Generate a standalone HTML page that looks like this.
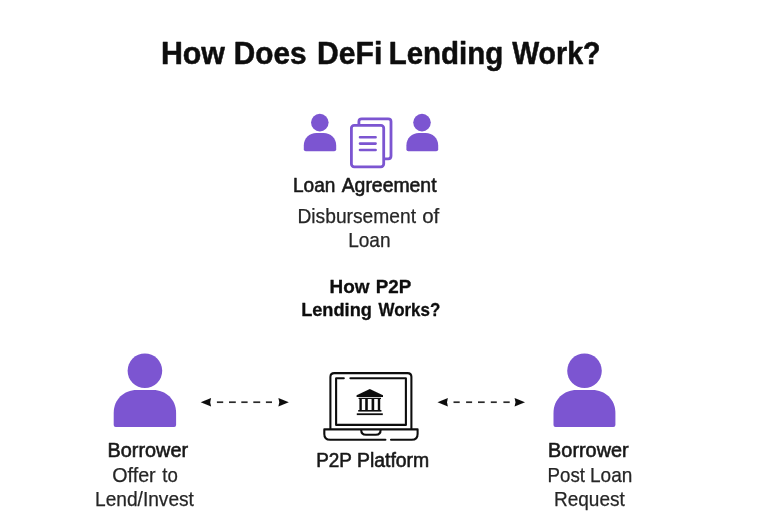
<!DOCTYPE html>
<html lang="en">
<head>
<meta charset="utf-8">
<title>How Does DeFi Lending Work?</title>
<style>
html,body{margin:0;padding:0;background:#fff;}
body{width:768px;height:519px;overflow:hidden;font-family:"Liberation Sans",sans-serif;}
svg{display:block;}
text{font-family:"Liberation Sans",sans-serif;}
</style>
</head>
<body>
<svg width="768" height="519" viewBox="0 0 768 519">
<rect width="768" height="519" fill="#ffffff"/>
<defs><filter id="soft" x="-5%" y="-5%" width="110%" height="110%"><feGaussianBlur stdDeviation="0.45"/></filter></defs>
<g filter="url(#soft)">
<g fill="#7b55d1">
<circle cx="319.8" cy="122.6" r="8.8"/>
<path d="M305.8 151.3 Q303.8 151.3 303.8 149.3 V145.5 C303.8 138.00 309.43 133.0 316.3 133.0 H323.7 C330.57 133.0 336.2 138.00 336.2 145.5 V149.3 Q336.2 151.3 334.2 151.3 Z"/>
<circle cx="422.0" cy="122.6" r="8.8"/>
<path d="M408.4 151.3 Q406.4 151.3 406.4 149.3 V145.5 C406.4 138.00 412.02 133.0 418.9 133.0 H425.7 C432.57 133.0 438.2 138.00 438.2 145.5 V149.3 Q438.2 151.3 436.2 151.3 Z"/>
<circle cx="144.9" cy="370.8" r="17.3"/>
<path d="M115.7 427.1 Q113.7 427.1 113.7 425.1 V413.1 C113.7 399.30 124.05 390.1 136.7 390.1 H153.1 C165.75 390.1 176.1 399.30 176.1 413.1 V425.1 Q176.1 427.1 174.1 427.1 Z"/>
<circle cx="584.5" cy="370.8" r="17.3"/>
<path d="M555.5 427.1 Q553.5 427.1 553.5 425.1 V413.1 C553.5 399.30 563.85 390.1 576.5 390.1 H592.4 C605.05 390.1 615.4 399.30 615.4 413.1 V425.1 Q615.4 427.1 613.4 427.1 Z"/>
</g>
<g fill="none" stroke="#7b55d1" stroke-width="2.8" stroke-linecap="round" stroke-linejoin="round">
<path d="M358.9 124.0 V121.6 Q358.9 118.8 361.7 118.8 H388.2 Q391.0 118.8 391.0 121.6 V156.0 Q391.0 158.8 388.2 158.8 H385"/>
<rect x="351.4" y="125.3" width="32.3" height="41.6" rx="2.8" fill="#fff"/>
<path d="M360 137.3 H375.6 M360 143.6 H375.6 M360 150 H375.6" stroke-width="2.6"/>
</g>
<g fill="none" stroke="#111" stroke-width="2.1" stroke-linecap="round" stroke-linejoin="round">
<path d="M330.4 428.6 V377.0 Q330.4 373.1 334.3 373.1 H407.5 Q411.4 373.1 411.4 377.0 V428.6"/>
<path d="M350.4 378.3 H405.9 V424.9 H336.1 V378.3 H343.8"/>
<path d="M391.0 439.7 H411.8 Q417.6 439.7 417.6 433.9 V429.4 H324.3 V433.9 Q324.3 439.7 330.1 439.7 H385.4"/>
<path d="M361.2 430 Q361.2 434.7 365.9 434.7 H375.9 Q380.6 434.7 380.6 430"/>
</g>
<g fill="#111" stroke="none">
<path d="M369.8 388.9 L383 395.2 V396.9 H356.6 V395.2 Z"/>
<rect x="358.6" y="397.8" width="22.4" height="1.2"/>
<rect x="359.4" y="399" width="2.4" height="11"/>
<rect x="365.2" y="399" width="2.6" height="11"/>
<rect x="371.6" y="399" width="2.6" height="11"/>
<rect x="377.8" y="399" width="2.4" height="11"/>
<rect x="358.2" y="410" width="23.2" height="1.6"/>
<rect x="356.8" y="413.3" width="26" height="1.8"/>
</g>
<g fill="#111" stroke="none">
<path d="M200.7 402.2 L211.1 397.9 L210.2 402.2 L211.1 406.5 Z"/>
<path d="M288.8 402.2 L278.4 397.9 L279.3 402.2 L278.4 406.5 Z"/>
<rect x="216.9" y="401.35" width="6.3" height="1.7" fill="#2a2a2a"/>
<rect x="229" y="401.35" width="6.8" height="1.7" fill="#2a2a2a"/>
<rect x="241.3" y="401.35" width="6.3" height="1.7" fill="#2a2a2a"/>
<rect x="253.3" y="401.35" width="6.9" height="1.7" fill="#2a2a2a"/>
<rect x="265.9" y="401.35" width="6.1" height="1.7" fill="#2a2a2a"/>
</g>
<g fill="#111" stroke="none">
<path d="M437.5 402.2 L447.9 397.9 L447.0 402.2 L447.9 406.5 Z"/>
<path d="M525.0 402.2 L514.6 397.9 L515.5 402.2 L514.6 406.5 Z"/>
<rect x="453.5" y="401.35" width="6.2" height="1.7" fill="#2a2a2a"/>
<rect x="466.1" y="401.35" width="6.0" height="1.7" fill="#2a2a2a"/>
<rect x="478" y="401.35" width="6.7" height="1.7" fill="#2a2a2a"/>
<rect x="490.8" y="401.35" width="6.0" height="1.7" fill="#2a2a2a"/>
<rect x="503.4" y="401.35" width="6.3" height="1.7" fill="#2a2a2a"/>
</g>
<text y="64.2" font-size="30.7" font-weight="bold" fill="#0c0c0c" stroke="#0c0c0c" stroke-width="0.5" stroke-linejoin="round" xml:space="preserve"><tspan x="160.90" textLength="64.10" lengthAdjust="spacingAndGlyphs">How</tspan> <tspan x="233.72" textLength="72.76" lengthAdjust="spacingAndGlyphs">Does</tspan> <tspan x="317.02" textLength="65.26" lengthAdjust="spacingAndGlyphs">DeFi</tspan> <tspan x="388.72" textLength="114.50" lengthAdjust="spacingAndGlyphs">Lending</tspan> <tspan x="512.18" textLength="88.30" lengthAdjust="spacingAndGlyphs">Work?</tspan></text>
<text y="192.4" font-size="19.6" font-weight="normal" fill="#1a1a1a" stroke="#1a1a1a" stroke-width="0.6" stroke-linejoin="round" xml:space="preserve"><tspan x="293.02" textLength="42.40" lengthAdjust="spacingAndGlyphs">Loan</tspan> <tspan x="341.68" textLength="94.88" lengthAdjust="spacingAndGlyphs">Agreement</tspan></text>
<text y="223.2" font-size="19.8" font-weight="normal" fill="#262626" stroke="#262626" stroke-width="0.25" stroke-linejoin="round" xml:space="preserve"><tspan x="297.46" textLength="118.54" lengthAdjust="spacingAndGlyphs">Disbursement</tspan> <tspan x="422.20" textLength="17.12" lengthAdjust="spacingAndGlyphs">of</tspan></text>
<text y="246.9" font-size="19.8" font-weight="normal" fill="#262626" stroke="#262626" stroke-width="0.25" stroke-linejoin="round" xml:space="preserve"><tspan x="348.14" textLength="42.40" lengthAdjust="spacingAndGlyphs">Loan</tspan></text>
<text y="292.6" font-size="18.2" font-weight="bold" fill="#0c0c0c" stroke="#0c0c0c" stroke-width="0.3" stroke-linejoin="round" xml:space="preserve"><tspan x="329.52" textLength="39.92" lengthAdjust="spacingAndGlyphs">How</tspan> <tspan x="375.70" textLength="35.55" lengthAdjust="spacingAndGlyphs">P2P</tspan></text>
<text y="316.3" font-size="18.2" font-weight="bold" fill="#0c0c0c" stroke="#0c0c0c" stroke-width="0.3" stroke-linejoin="round" xml:space="preserve"><tspan x="301.14" textLength="70.78" lengthAdjust="spacingAndGlyphs">Lending</tspan> <tspan x="378.50" textLength="61.74" lengthAdjust="spacingAndGlyphs">Works?</tspan></text>
<text y="456.6" font-size="19.6" font-weight="normal" fill="#1a1a1a" stroke="#1a1a1a" stroke-width="0.6" stroke-linejoin="round" xml:space="preserve"><tspan x="107.58" textLength="80.48" lengthAdjust="spacingAndGlyphs">Borrower</tspan></text>
<text y="482.0" font-size="19.8" font-weight="normal" fill="#262626" stroke="#262626" stroke-width="0.25" stroke-linejoin="round" xml:space="preserve"><tspan x="112.26" textLength="43.42" lengthAdjust="spacingAndGlyphs">Offer</tspan> <tspan x="162.32" textLength="15.54" lengthAdjust="spacingAndGlyphs">to</tspan></text>
<text y="506.0" font-size="19.8" font-weight="normal" fill="#262626" stroke="#262626" stroke-width="0.25" stroke-linejoin="round" xml:space="preserve"><tspan x="95.08" textLength="98.86" lengthAdjust="spacingAndGlyphs">Lend/Invest</tspan></text>
<text y="467.0" font-size="19.6" font-weight="normal" fill="#1a1a1a" stroke="#1a1a1a" stroke-width="0.6" stroke-linejoin="round" xml:space="preserve"><tspan x="316.14" textLength="35.36" lengthAdjust="spacingAndGlyphs">P2P</tspan> <tspan x="357.02" textLength="72.22" lengthAdjust="spacingAndGlyphs">Platform</tspan></text>
<text y="456.6" font-size="19.6" font-weight="normal" fill="#1a1a1a" stroke="#1a1a1a" stroke-width="0.6" stroke-linejoin="round" xml:space="preserve"><tspan x="548.14" textLength="80.48" lengthAdjust="spacingAndGlyphs">Borrower</tspan></text>
<text y="482.0" font-size="19.8" font-weight="normal" fill="#262626" stroke="#262626" stroke-width="0.25" stroke-linejoin="round" xml:space="preserve"><tspan x="547.58" textLength="37.36" lengthAdjust="spacingAndGlyphs">Post</tspan> <tspan x="590.02" textLength="42.28" lengthAdjust="spacingAndGlyphs">Loan</tspan></text>
<text y="506.0" font-size="19.8" font-weight="normal" fill="#262626" stroke="#262626" stroke-width="0.25" stroke-linejoin="round" xml:space="preserve"><tspan x="553.96" textLength="70.79" lengthAdjust="spacingAndGlyphs">Request</tspan></text>
</g>
</svg>
</body>
</html>
